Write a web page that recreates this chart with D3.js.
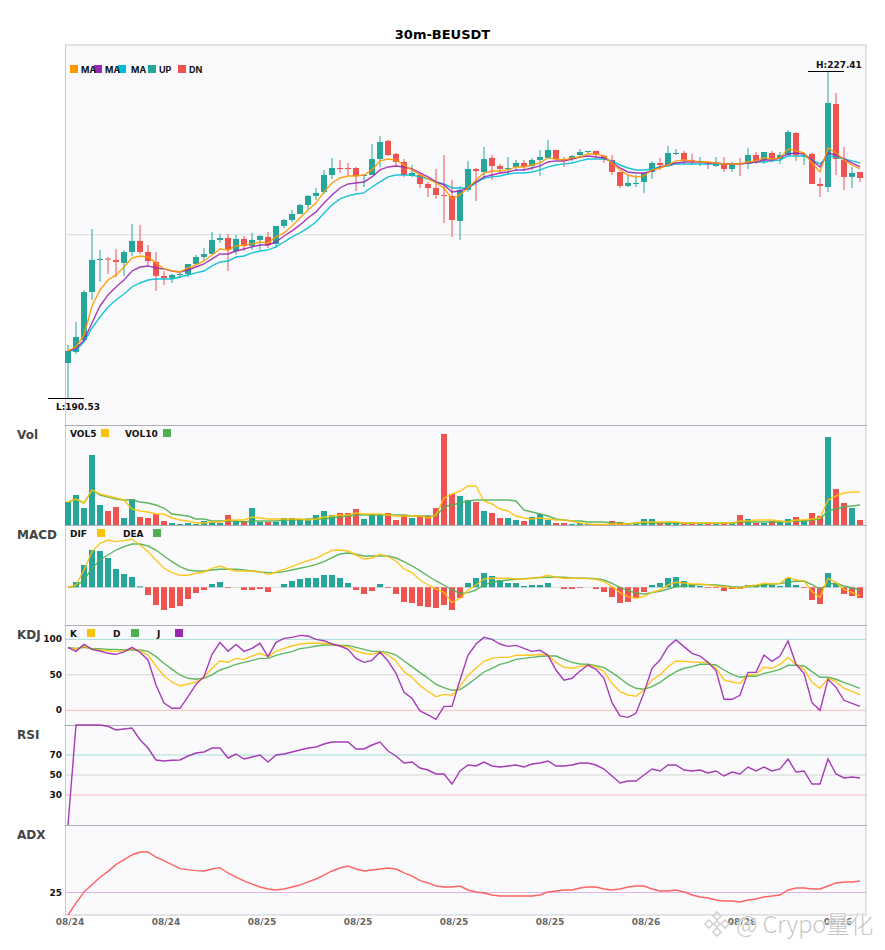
<!DOCTYPE html>
<html>
<head>
<meta charset="utf-8">
<script src="https://cdn.jsdelivr.net/npm/d3@7"></script>
<style>
  body { margin: 0; background: #fff; }
  text { font-family: "DejaVu Sans", sans-serif; }
</style>
</head>
<body>
<div id="chart"></div>
<script>
const open = [
  194.49,195.74,197.10,202.52,206.15,206.30,206.15,205.81,207.05,208.30,
  207.05,205.92,204.34,204.11,204.45,204.56,205.69,206.48,206.82,208.41,
  208.63,207.16,208.52,207.73,208.41,208.75,207.96,209.99,210.67,211.35,
  212.37,213.39,213.84,215.76,216.55,216.55,216.55,215.65,215.76,217.57,
  219.61,218.14,217.23,215.65,215.76,214.74,214.29,213.50,213.39,210.56,
  214.07,216.44,216.10,217.69,216.78,216.44,216.67,217.12,216.78,217.46,
  217.69,218.59,217.57,217.57,218.02,218.36,218.48,217.91,217.46,216.10,
  214.52,214.74,214.97,216.10,217.12,216.89,218.14,218.25,217.46,217.23,
  217.23,216.78,216.89,216.44,217.12,217.01,218.02,217.46,218.25,217.57,
  218.02,220.51,217.91,218.14,214.74,214.40,223.79,217.46,215.54,216.10];
const high = [
  196.53,199.13,202.75,209.65,207.28,206.48,207.39,207.28,210.22,210.11,
  207.84,207.05,204.90,204.56,204.79,205.69,206.71,207.50,209.31,209.09,
  209.09,208.97,208.86,209.20,208.97,209.31,209.99,210.78,211.80,212.48,
  213.50,214.29,216.33,217.69,217.46,217.12,216.67,215.87,219.27,220.17,
  219.72,218.25,217.57,216.89,215.99,214.97,216.44,218.02,215.20,214.52,
  217.35,216.55,218.93,218.02,217.01,217.80,217.46,217.46,217.69,218.59,
  219.72,218.59,217.80,218.02,218.70,218.48,218.48,218.02,218.02,216.10,
  215.76,215.76,215.99,217.35,217.69,219.04,218.70,218.48,218.14,217.80,
  217.35,217.80,217.80,217.23,217.69,218.82,218.36,218.36,218.48,218.36,
  220.85,220.62,218.25,218.25,215.42,227.41,225.04,218.93,216.67,216.10];
const low = [
  190.53,195.51,196.98,201.62,203.66,204.56,204.22,204.34,206.60,206.82,
  205.47,202.64,203.32,203.54,204.11,204.22,205.58,206.03,206.82,208.07,
  204.90,206.71,207.16,207.28,207.28,207.50,207.50,209.77,210.44,211.35,
  211.92,212.93,213.61,215.31,215.99,215.65,213.95,214.40,215.76,216.67,
  217.91,216.67,215.54,215.54,214.29,213.27,213.05,210.33,208.75,208.41,
  213.84,212.82,215.20,215.20,215.87,215.76,216.21,216.21,216.33,215.65,
  217.69,217.46,216.67,217.35,217.91,218.14,217.69,217.12,215.76,214.29,
  214.40,214.40,213.73,215.31,216.33,216.78,218.02,216.89,216.89,216.78,
  216.44,216.67,216.10,216.10,215.65,216.44,217.01,217.01,217.23,217.01,
  217.91,217.35,216.89,214.74,213.27,213.84,215.76,214.07,214.29,214.97];
const close = [
  195.85,197.44,202.52,206.15,206.26,206.20,205.92,207.05,208.30,207.05,
  206.03,204.34,204.11,204.45,204.56,205.69,206.48,206.82,208.41,208.63,
  207.28,208.52,207.73,208.41,208.86,207.84,209.99,210.67,211.35,212.37,
  213.39,213.73,215.76,216.55,216.44,216.44,215.65,215.76,217.57,219.49,
  218.02,217.23,215.76,215.99,214.74,214.29,213.50,213.39,210.67,214.07,
  216.44,216.21,217.57,216.78,216.44,216.55,217.12,216.67,217.46,217.80,
  218.59,217.57,217.35,217.91,218.36,218.48,218.02,217.57,216.10,214.52,
  214.86,214.86,215.99,217.12,216.89,218.25,218.25,217.46,217.35,217.35,
  217.12,217.12,216.44,217.01,217.01,218.02,217.35,218.36,217.57,218.02,
  220.62,218.02,218.02,214.74,214.52,223.91,217.57,215.54,215.99,215.42];

const ma5 = [
  195.85,196.30,197.66,200.94,202.75,203.88,204.45,205.35,206.37,206.60,
  206.48,205.81,205.13,204.90,204.79,205.24,205.58,206.03,206.71,207.39,
  207.28,207.73,207.84,207.96,208.18,208.07,208.75,209.20,209.99,210.90,
  211.80,212.59,213.84,214.86,215.42,215.65,215.65,215.76,216.33,217.35,
  217.57,217.46,216.89,216.33,215.76,215.31,214.86,214.29,213.05,213.50,
  214.29,215.20,215.99,216.21,216.21,216.33,216.67,216.67,216.89,217.12,
  217.69,217.57,217.46,217.69,217.80,218.14,218.14,217.91,217.12,216.33,
  215.76,215.54,215.65,216.33,216.55,216.89,217.35,217.46,217.35,217.23,
  217.23,217.12,217.01,217.01,217.01,217.23,217.35,217.69,217.57,217.69,
  218.70,218.48,218.25,217.12,216.10,218.82,218.25,217.46,216.89,216.44];
const ma10 = [
  195.85,196.08,197.10,199.02,200.94,202.19,203.09,203.88,204.90,205.35,
  205.47,205.24,205.13,204.90,204.79,205.01,205.35,205.69,206.26,206.82,
  206.82,207.16,207.39,207.62,207.84,207.84,208.18,208.86,209.43,210.11,
  210.90,211.58,212.59,213.50,214.29,214.74,214.86,214.97,215.54,216.33,
  216.67,216.78,216.67,216.44,215.99,215.54,214.97,214.63,213.84,213.95,
  214.29,214.97,215.54,215.76,215.99,216.10,216.33,216.33,216.55,216.78,
  217.23,217.35,217.35,217.57,217.80,217.91,217.80,217.69,217.23,216.55,
  216.10,215.99,215.99,216.21,216.67,216.89,217.12,217.23,217.23,217.23,
  217.12,217.12,217.01,217.01,217.01,217.12,217.23,217.46,217.46,217.69,
  218.14,218.25,218.14,217.46,216.67,218.25,218.02,217.57,217.12,216.67];
const ma20 = [
  195.85,195.96,196.87,198.45,199.70,200.83,201.62,202.30,203.09,203.54,
  203.88,204.00,204.00,204.00,204.22,204.45,204.68,204.90,205.47,205.92,
  206.03,206.48,206.60,206.94,207.16,207.28,207.62,208.18,208.75,209.20,
  209.77,210.44,211.46,212.37,213.05,213.39,213.61,213.73,214.40,214.97,
  215.54,215.76,215.76,215.76,215.54,215.31,214.97,214.74,214.29,214.29,
  214.29,214.86,215.42,215.54,215.65,215.87,215.99,215.99,216.10,216.33,
  216.67,216.89,217.01,217.12,217.35,217.57,217.57,217.57,217.35,216.89,
  216.55,216.33,216.33,216.44,216.67,216.78,217.01,217.01,217.01,217.01,
  217.01,217.01,217.01,217.01,217.01,217.12,217.23,217.23,217.35,217.46,
  217.91,217.91,217.91,217.46,217.01,217.91,217.80,217.57,217.35,217.12];

const volume = [
  23,30,17,70,20,14,18,7,26,8,7,11,4,2,1,2,1,4,3,2,
  10,4,4,17,3,3,3,7,7,6,6,10,14,10,12,12,16,6,11,11,
  12,5,10,7,9,9,17,91,31,29,25,23,14,12,7,7,5,4,8,11,
  5,2,2,1,2,1,1,1,4,3,2,2,6,6,2,3,3,1,1,1,
  1,1,1,2,10,6,2,2,4,3,6,8,5,12,9,88,36,22,17,5];
const vol5 = [
  23,26,22,35,31,29,27,25,16,14,13,11,11,7,5,4,2,2,3,3,
  5,5,5,8,7,6,6,6,6,6,5,6,8,9,10,10,12,11,11,11,
  10,9,9,9,9,7,10,27,31,34,39,39,24,21,16,14,9,7,6,7,
  6,5,5,4,2,1,0.5,0.5,1,1,1,2,3,3,3,3,3,2,2,2,
  2,2,2,2,4,4,5,5,5,4,3,5,5,6,7,25,29,32,33,33];
const vol10 = [
  23,26,22,35,30,28,26,25,25,23,22,20,17,11,10,9,6,6,4,4,
  4,4,3,4,4,4,4,5,5,5,6,6,6,7,8,9,10,10,10,10,
  10,10,10,9,9,9,9,18,20,22,24,25,25,25,25,25,24,15,13,11,
  9,6,5,4,4,3,3,3,2,2,1,2,2,2,2,2,2,2,2,2,
  2,2,2,2,3,3,3,3,3,3,4,4,4,5,6,14,16,18,19,20];

const macdHist = [
  0,0.53,2.23,3.73,3.63,2.93,1.83,1.33,1.03,0.10,
  -0.77,-1.77,-2.27,-2.07,-1.87,-1.17,-0.57,-0.27,0.33,0.53,
  -0.07,-0.01,-0.27,-0.27,-0.17,-0.47,0,0.33,0.63,0.83,
  0.93,0.93,1.23,1.23,0.93,0.43,-0.27,-0.67,-0.37,0.33,
  -0.07,-0.67,-1.47,-1.57,-1.87,-1.97,-2.07,-1.77,-2.27,-1.07,
  0.43,0.93,1.43,1.13,0.73,0.43,0.43,0.13,0.23,0.23,
  0.43,0,-0.17,-0.17,-0.07,0,-0.17,-0.47,-0.97,-1.57,
  -1.47,-1.07,-0.47,0.23,0.43,0.93,1.03,0.63,0.33,0.13,
  -0.07,-0.07,-0.37,-0.17,-0.17,0.23,0.23,0.33,0.23,0.13,
  0.93,0.23,-0.07,-1.27,-1.67,1.43,0.43,-0.67,-0.87,-1.07];
const dif = [
  0,0.23,1.73,3.57,4.40,4.73,4.57,4.67,4.80,4.23,
  3.57,2.73,1.90,1.47,1.20,1.20,1.40,1.53,1.90,2.13,
  1.83,1.63,1.63,1.63,1.57,1.27,1.53,1.80,2.07,2.40,
  2.67,2.90,3.30,3.70,3.73,3.63,3.23,2.83,2.93,3.30,
  3.07,2.63,1.83,1.47,0.73,0.23,-0.17,-0.50,-1.53,-1.10,
  -0.27,0.23,0.83,0.90,0.90,0.90,0.83,0.83,0.90,1.00,
  1.20,1.00,0.90,0.90,0.90,0.87,0.80,0.57,0.07,-0.53,
  -0.93,-1.10,-0.93,-0.50,-0.27,0.23,0.50,0.43,0.33,0.33,
  0.27,0.13,0.07,-0.03,-0.10,0.13,0.20,0.40,0.33,0.40,
  1.00,0.73,0.63,-0.43,-1.00,0.90,0.47,-0.20,-0.50,-0.87];
const dea = [
  0,0.13,0.73,1.90,2.73,3.23,3.73,4.07,4.33,4.33,
  4.13,3.73,3.13,2.57,2.07,1.73,1.63,1.63,1.73,1.80,
  1.80,1.80,1.73,1.63,1.53,1.47,1.47,1.57,1.73,1.90,
  2.07,2.30,2.57,2.97,3.33,3.43,3.30,3.13,3.13,3.13,
  3.13,2.93,2.57,2.13,1.67,1.13,0.63,0.23,-0.27,-0.60,
  -0.53,-0.27,0.23,0.50,0.63,0.73,0.80,0.87,0.90,0.97,
  1.00,1.00,1.00,0.93,0.90,0.90,0.87,0.73,0.40,0,
  -0.33,-0.57,-0.67,-0.53,-0.40,-0.17,0.07,0.13,0.20,0.27,
  0.27,0.23,0.17,0.07,0,0.10,0.13,0.23,0.30,0.37,
  0.53,0.60,0.63,0.27,-0.20,0.33,0.40,0.13,-0.07,-0.27];

const kLine = [
  88.3,86,90.6,86,85,84,83.1,84,86.9,84,
  77.9,62.4,48.4,39.9,34.2,37,39.9,46.5,59.2,69.5,
  67.6,73.2,71.8,76.5,80.3,75.6,83.1,87.3,90.6,93.4,
  94.4,94.4,94.4,93,90.6,89.7,83.6,80.3,78.9,82.2,
  78,69.5,54.5,46.5,34.7,26.8,19.2,22.5,21.1,33.3,
  49.3,59.2,69,73.2,74.6,74.6,77.5,77.5,77.5,78.9,
  77.5,67.6,60.6,59.2,61.5,63.4,61.5,54.5,38,26.3,
  21.6,19.7,28.6,42.7,49.8,61.5,69.5,69,68,67.6,
  67.6,59.2,42.7,39.9,38,49.8,50.7,60.6,59.2,64.8,
  74.6,64.8,57.7,39.4,31,45.1,40.4,31,26.8,22.1];
const dLine = [
  88.3,87.3,88.7,86.9,86.9,85.9,85.9,85,85.4,85,
  83.1,75.6,66.2,57.7,49.8,45.1,43.7,45.1,49.8,56.8,
  60.6,64.8,67.6,70.4,73.2,73.2,77.5,80.3,82.6,86.9,
  88.3,90.6,92,92,91.5,91.5,88.7,85.9,83.1,83.1,
  81.7,77.9,69.5,61.5,53.1,45.1,36.6,31.9,28.2,29.1,
  36.6,45.1,54,59.2,64.8,67.6,71.8,73.2,74.6,76.1,
  76.5,76.5,71.8,67.6,65.3,64.8,62.9,60.1,53.1,45.1,
  36.6,31,29.6,33.3,39.4,47.4,54.5,59.2,61.5,64.8,
  64.8,63.8,56.8,50.7,46.5,47.9,47.9,52.1,54.5,57.7,
  63.4,63.4,62.4,54.5,46.5,46.5,43.7,39.4,35.2,31];
const jLine = [
  88.7,83.1,92.9,85.9,83.6,80.3,78.9,82.2,88.7,81.7,
  70.9,35.7,10.3,2.8,2.8,19.2,36.6,47.4,78.9,95.8,
  83.1,92.9,83.1,87.3,94.4,75.6,95.8,101.4,102.8,105.6,
  104.7,100,98.1,93.4,90.6,85.9,73.2,67.6,70.4,82.2,
  69.5,52.1,25.4,16.9,-0.9,-6.6,-12.7,5.6,5.6,42.7,
  77.5,93.4,102.8,100,93.4,90.1,91.5,87.3,83.1,84.5,
  77.5,56.8,42.3,45.1,55.4,63.8,57.7,45.1,10.8,-7.9,
  -9.9,-4.2,24.9,59.2,70.9,89.7,99.1,89.7,80.3,76.5,
  67.6,55.9,15.5,15.5,21.1,53.5,53.5,77.9,69,76.5,
  97.7,64.8,52.1,10.8,0,43.7,32.4,14.1,9.9,5.6];

const rsi = [
  0,100,100,100,100,98.7,95,96,97,85.3,
  77,65,64,64.7,65,69,72,73,77,77,
  67,71,66,68,70,63,70,71,73,75,
  77,78,81,83,83,83,76,76,80,83,
  74,69,62,63,57,55,51,51,41,54,
  60,59,63,59,58,59,60,58,61,62,
  64,59,59,60,62,62,60,56,49,42,
  44,44,50,56,54,60,60,55,54,55,
  52,54,49,53,51,58,54,58,54,56,
  66,53,54,41,41,66,51,47,48,47];
const adx = [
  0,13.3,25.6,33.7,41.9,48.5,55.9,61.5,66.7,70,
  70,64.4,60.4,55.9,51.5,50.4,49.3,48.9,51.1,52.6,
  46.7,42.2,37.8,34.4,31.1,28.9,27.8,28.9,31.1,33.3,
  36.7,40,44.4,48.9,52.2,54.4,51.1,48.9,50,51.1,
  52.2,51.1,46.7,43.3,38.1,35.6,32.2,31.1,31.1,32.2,
  27.8,25.6,24.4,22.2,21.1,21.1,21.1,21.1,21.1,22.2,
  25.6,26.7,27.8,27.8,30,31.1,31.1,28.9,27.8,28.9,
  31.1,32.2,32.2,28.9,26.7,26.7,27.8,25.6,22.2,20,
  18.9,16.7,15.6,15.6,14.4,16.7,17.8,20,21.1,22.2,
  27.8,30,30,28.9,28.9,32.2,35.6,36.7,36.7,37.8];

const dateLabels = ['08/24', '08/24', '08/25', '08/25', '08/25', '08/25', '08/26', '08/26', '08/26'];
const refMain = 209;
const kdjLevels = [100, 50, 0];
const rsiLevels = [70, 50, 30];
const adxLevels = [25];

const UP = '#26a69a';
const DN = '#ef5350';
const ORANGE = '#ff9800';
const PURPLE = '#9c27b0';
const CYAN = '#00bcd4';
const YELLOW = '#ffc107';
const GREEN = '#4caf50';
const LEVEL_COLORS = ['#a6dcd6', '#d4d4d4', '#f9bcbc'];

const width = 885;
const height = 950;
const left = 65.5;
const right = 866;
const count = open.length;
const indexes = d3.range(count);

const svg = d3.select('#chart')
    .append('svg')
    .attr('width', width)
    .attr('height', height)
    .style('display', 'block');

const x = d3.scaleBand()
    .domain(indexes)
    .range([64, 864])
    .paddingInner(0.25)
    .paddingOuter(0.125);
const center = i => x(i) + x.bandwidth() / 2;

const yMain = d3.scaleLinear().domain([190.53, 227.41]).range([398, 72]);
const yVol = d3.scaleLinear().domain([0, 100]).range([525, 425]);
const yMacd = d3.scaleLinear().domain([-3.77, 6.23]).range([625, 525]);
const yKdj = d3.scaleLinear().domain([-20.7, 120.2]).range([725, 625]);
const yRsi = d3.scaleLinear().domain([0, 100]).range([825, 725]);
const yAdx = d3.scaleLinear().domain([0, 100]).range([915, 825]);

// background and frame
svg.append('rect')
    .attr('x', left)
    .attr('y', 45)
    .attr('width', right - left)
    .attr('height', 870)
    .attr('fill', '#fafafc')
    .attr('stroke', '#c9c9d1');

svg.append('text')
    .attr('x', 442.5)
    .attr('y', 39)
    .attr('text-anchor', 'middle')
    .attr('font-size', 13)
    .attr('font-weight', 'bold')
    .attr('fill', '#000')
    .text('30m-BEUSDT');

// separators between the panels
const panelTops = [425, 525, 625, 725, 825];
svg.selectAll('.separator')
    .data(panelTops)
    .enter()
    .append('line')
    .attr('class', 'separator')
    .attr('x1', left - 1)
    .attr('x2', right + 1)
    .attr('y1', d => d + 0.5)
    .attr('y2', d => d + 0.5)
    .attr('stroke', '#adadb5');

const panelNames = ['Vol', 'MACD', 'KDJ', 'RSI', 'ADX'];
svg.selectAll('.panel-name')
    .data(panelNames)
    .enter()
    .append('text')
    .attr('class', 'panel-name')
    .attr('x', 17)
    .attr('y', (d, i) => panelTops[i] + 14)
    .attr('font-size', 12)
    .attr('font-weight', 'bold')
    .attr('fill', '#444')
    .text(d => d);

function drawLevels(levels, scale, colors, showLabels) {
    levels.forEach((level, i) => {
        svg.append('line')
            .attr('x1', left + 0.5)
            .attr('x2', right)
            .attr('y1', scale(level))
            .attr('y2', scale(level))
            .attr('stroke', colors[i]);
        if (showLabels) {
            svg.append('text')
                .attr('x', 62)
                .attr('y', scale(level) + 3)
                .attr('text-anchor', 'end')
                .attr('font-size', 9)
                .attr('font-weight', 'bold')
                .attr('fill', '#111')
                .text(level);
        }
    });
}

function drawLine(values, scale, color, lineWidth = 1.4) {
    const line = d3.line()
        .x((d, i) => center(i))
        .y(d => scale(d));
    svg.append('path')
        .attr('d', line(values))
        .attr('fill', 'none')
        .attr('stroke', color)
        .attr('stroke-opacity', 0.9)
        .attr('stroke-width', lineWidth);
}

function drawLegend(items, y, fontFamily) {
    items.forEach(item => {
        svg.append('rect')
            .attr('x', item.box)
            .attr('y', y)
            .attr('width', 8)
            .attr('height', 8)
            .attr('fill', item.color);
    });
    items.forEach(item => {
        svg.append('text')
            .attr('x', item.label)
            .attr('y', y + 7.5)
            .attr('font-size', 9)
            .attr('font-weight', 'bold')
            .attr('fill', '#111')
            .style('font-family', fontFamily)
            .text(item.name);
    });
}

// main panel
drawLevels([refMain], yMain, ['#dcdcdc'], false);

const candle = svg.append('g')
    .selectAll('g')
    .data(indexes)
    .enter()
    .append('g')
    .attr('fill', i => close[i] >= open[i] ? UP : DN)
    .attr('stroke', i => close[i] >= open[i] ? UP : DN);

candle.append('line')
    .attr('x1', i => center(i))
    .attr('x2', i => center(i))
    .attr('y1', i => yMain(high[i]))
    .attr('y2', i => yMain(low[i]))
    .attr('stroke-width', 1);

candle.append('rect')
    .attr('x', i => x(i))
    .attr('y', i => yMain(Math.max(open[i], close[i])))
    .attr('width', x.bandwidth())
    .attr('height', i => Math.max(1, Math.abs(yMain(open[i]) - yMain(close[i]))))
    .attr('stroke', 'none');

drawLine(ma20, yMain, CYAN);
drawLine(ma10, yMain, PURPLE);
drawLine(ma5, yMain, ORANGE);

const highIndex = d3.maxIndex(high);
const lowIndex = d3.minIndex(low);

svg.append('line')
    .attr('x1', center(highIndex) - 20)
    .attr('x2', center(highIndex) + 16)
    .attr('y1', yMain(high[highIndex]) - 0.5)
    .attr('y2', yMain(high[highIndex]) - 0.5)
    .attr('stroke', '#000');
svg.append('text')
    .attr('x', center(highIndex) - 12)
    .attr('y', yMain(high[highIndex]) - 4)
    .attr('font-size', 9)
    .attr('font-weight', 'bold')
    .attr('fill', '#111')
    .text('H:' + high[highIndex].toFixed(2));

svg.append('line')
    .attr('x1', center(lowIndex) - 20)
    .attr('x2', center(lowIndex) + 16)
    .attr('y1', yMain(low[lowIndex]) + 0.5)
    .attr('y2', yMain(low[lowIndex]) + 0.5)
    .attr('stroke', '#000');
svg.append('text')
    .attr('x', center(lowIndex) - 12)
    .attr('y', yMain(low[lowIndex]) + 12)
    .attr('font-size', 9)
    .attr('font-weight', 'bold')
    .attr('fill', '#111')
    .text('L:' + low[lowIndex].toFixed(2));

drawLegend([
    {name: 'MA', color: ORANGE, box: 70, label: 81},
    {name: 'MA', color: PURPLE, box: 94, label: 105},
    {name: 'MA', color: CYAN, box: 118, label: 131},
    {name: 'UP', color: UP, box: 148, label: 159},
    {name: 'DN', color: DN, box: 178, label: 189}
], 65, 'Inter');

// volume
svg.append('g')
    .selectAll('rect')
    .data(volume)
    .enter()
    .append('rect')
    .attr('x', (d, i) => x(i))
    .attr('y', d => yVol(d))
    .attr('width', x.bandwidth())
    .attr('height', d => yVol(0) - yVol(d))
    .attr('fill', (d, i) => close[i] >= open[i] ? UP : DN);

drawLine(vol10, yVol, GREEN);
drawLine(vol5, yVol, YELLOW);
drawLegend([
    {name: 'VOL5', color: YELLOW, box: 101, label: 70},
    {name: 'VOL10', color: GREEN, box: 163, label: 125}
], 429, 'DejaVu Sans');

// macd
drawLevels([0], yMacd, ['#dcdcdc'], false);
svg.append('g')
    .selectAll('rect')
    .data(macdHist)
    .enter()
    .append('rect')
    .attr('x', (d, i) => x(i))
    .attr('y', d => yMacd(Math.max(d, 0)))
    .attr('width', x.bandwidth())
    .attr('height', d => Math.abs(yMacd(d) - yMacd(0)))
    .attr('fill', d => d >= 0 ? UP : DN);

drawLine(dea, yMacd, GREEN);
drawLine(dif, yMacd, YELLOW);
drawLegend([
    {name: 'DIF', color: YELLOW, box: 97, label: 70},
    {name: 'DEA', color: GREEN, box: 153, label: 123}
], 529, 'DejaVu Sans');

// kdj
drawLevels(kdjLevels, yKdj, LEVEL_COLORS, true);
drawLine(dLine, yKdj, GREEN);
drawLine(kLine, yKdj, YELLOW);
drawLine(jLine, yKdj, PURPLE);
drawLegend([
    {name: 'K', color: YELLOW, box: 87, label: 70},
    {name: 'D', color: GREEN, box: 131, label: 113},
    {name: 'J', color: PURPLE, box: 175, label: 157}
], 629, 'DejaVu Sans');

// rsi
drawLevels(rsiLevels, yRsi, LEVEL_COLORS, true);
drawLine(rsi, yRsi, PURPLE);

// adx
drawLevels(adxLevels, yAdx, ['#e0b4e6'], true);
drawLine(adx, yAdx, '#ff5252');

// time axis
const xAxis = d3.axisBottom(x)
    .tickValues(indexes.filter(i => i % 12 === 0))
    .tickSize(0)
    .tickPadding(4)
    .tickFormat(i => dateLabels[i / 12]);

const axisGroup = svg.append('g')
    .attr('transform', 'translate(0, 915)')
    .call(xAxis);
axisGroup.select('.domain').remove();
axisGroup.selectAll('text')
    .attr('dx', 2)
    .attr('font-size', 9)
    .attr('font-weight', 'bold')
    .attr('font-family', '"DejaVu Sans", sans-serif')
    .attr('fill', '#666');

// watermark
const mark = svg.append('g')
    .attr('transform', 'translate(717, 924)')
    .attr('fill', 'none')
    .attr('stroke', '#d2d2d2')
    .attr('stroke-width', 1.6);
[[0, -8, 4], [-8, 0, 4], [8, 0, 4], [0, 8, 4], [0, 0, 3]].forEach(d => {
    mark.append('path')
        .attr('d', `M${d[0]},${d[1] - d[2]}L${d[0] + d[2]},${d[1]}L${d[0]},${d[1] + d[2]}L${d[0] - d[2]},${d[1]}Z`);
});

svg.append('text')
    .attr('x', 736)
    .attr('y', 933)
    .attr('font-size', 23.5)
    .attr('fill', '#bcbcbc')
    .attr('fill-opacity', 0.85)
    .attr('stroke', '#fff')
    .attr('stroke-opacity', 0.6)
    .attr('stroke-width', 2)
    .attr('paint-order', 'stroke')
    .style('font-family', '"Noto Sans CJK SC", "Noto Sans", sans-serif')
    .style('font-weight', 300)
    .text('@ Crypo量化');
</script>
</body>
</html>
